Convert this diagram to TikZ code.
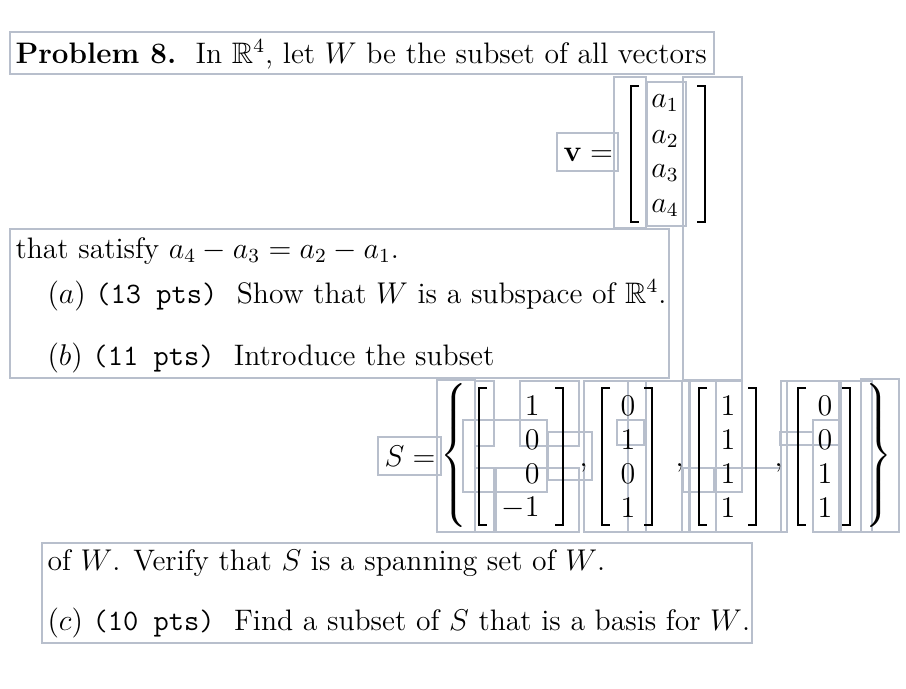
\documentclass[tikz,border=0pt]{standalone}
\usepackage{amsmath,amssymb}
\definecolor{boxgray}{HTML}{B8BFCC}
\tikzset{bx/.style={draw=boxgray,line width=0.45pt},
  txt/.style={anchor=base west,inner sep=0pt,font=\fontsize{11.85}{14}\selectfont},
  ent/.style={inner sep=0pt,font=\fontsize{12}{14}\selectfont},
  brk/.style={line width=0.75pt}}
\newcommand{\bx}[4]{\draw[bx] (#1,#2) rectangle (#3,#4);}
\newcommand{\lbrk}[3]{\draw[brk] (#1+8,#2) -- (#1,#2) -- (#1,#3) -- (#1+8,#3);}
\newcommand{\rbrk}[3]{\draw[brk] (#1-8,#2) -- (#1,#2) -- (#1,#3) -- (#1-8,#3);}
\begin{document}
\begin{tikzpicture}[x=0.4pt,y=-0.4pt]
\fill[white] (0,0) rectangle (906,688);
\useasboundingbox (0,0) rectangle (906,688);
% boxes
\bx{10}{32}{714}{74}
\bx{557}{133}{618}{171}
\bx{614}{77}{646}{228}
\bx{647}{82}{686}{226}
\bx{683}{77}{742}{380}
\bx{10}{229}{669}{378}
\bx{42}{543}{752}{643}
\bx{378}{437}{441}{475}
\bx{437}{380}{475}{532}
\bx{475}{381}{494}{446}
\bx{475}{468}{494}{532}
\bx{463}{420}{547}{492}
\bx{520}{381}{579}{446}
\bx{496}{468}{579}{532}
\bx{548}{432}{592}{480}
\bx{584}{381}{628}{532}
\bx{617}{420}{644}{445}
\bx{628}{381}{690}{532}
\bx{646}{381}{682}{532}
\bx{683}{468}{714}{492}
\bx{689}{381}{716}{532}
\bx{716}{381}{742}{492}
\bx{716}{468}{781}{532}
\bx{781}{381}{787}{532}
\bx{787}{381}{839}{445}
\bx{813}{420}{839}{532}
\bx{780}{432}{813}{445}
\bx{841}{381}{872}{532}
\bx{861}{379}{899}{532}
% texts
\node[txt] (t1) at (15,63) {\textbf{Problem 8.}\ \ In $\mathbb{R}^4$, let $W$ be the subset of all vectors};
\node[txt] (veq) at (563,161) {$\mathbf{v}=$};
\lbrk{631}{86}{222}
\rbrk{705}{86}{222}
\node[ent] (a1) at (665,103) {$a_1$};
\node[ent] (a2) at (665,139) {$a_2$};
\node[ent] (a3) at (665,173) {$a_3$};
\node[ent] (a4) at (665,208) {$a_4$};
\node[txt] (t2) at (15,258) {that satisfy $a_4-a_3=a_2-a_1$.};
\node[txt] (t3) at (47,303) {$(a)$ \texttt{(13 pts)}\ \ Show that $W$ is a subspace of $\mathbb{R}^4$.};
\node[txt] (t4) at (47,365) {$(b)$ \texttt{(11 pts)}\ \ Introduce the subset};
% set S
\node[txt] (seq) at (384,466) {$S=$};
\node[ent] (lb) at (455,456) {$\left\{\rule[-26pt]{0pt}{52pt}\right.$};
\node[ent] (rb) at (877,456) {$\left.\rule[-26pt]{0pt}{52pt}\right\}$};
\lbrk{479}{388}{525} \rbrk{563}{388}{525}
\lbrk{602}{388}{525} \rbrk{652}{388}{525}
\lbrk{699}{388}{525} \rbrk{756}{388}{525}
\lbrk{798}{388}{525} \rbrk{850}{388}{525}
\node[ent,anchor=east] (p11) at (540,406) {$1$};
\node[ent,anchor=east] (p12) at (540,440) {$0$};
\node[ent,anchor=east] (p13) at (540,474) {$0$};
\node[ent,anchor=east] (p14) at (540,508) {$-1$};
\node[ent] (p21) at (628,406) {$0$};
\node[ent] (p22) at (628,440) {$1$};
\node[ent] (p23) at (628,474) {$0$};
\node[ent] (p24) at (628,508) {$1$};
\node[ent] (p31) at (728,406) {$1$};
\node[ent] (p32) at (728,440) {$1$};
\node[ent] (p33) at (728,474) {$1$};
\node[ent] (p34) at (728,508) {$1$};
\node[ent] (p41) at (825,406) {$0$};
\node[ent] (p42) at (825,440) {$0$};
\node[ent] (p43) at (825,474) {$1$};
\node[ent] (p44) at (825,508) {$1$};
\node[txt] (c1) at (579,466) {,};
\node[txt] (c2) at (675,466) {,};
\node[txt] (c3) at (774,466) {,};
\node[txt] (t5) at (47,570) {of $W$. Verify that $S$ is a spanning set of $W$.};
\node[txt] (t6) at (47,630) {$(c)$ \texttt{(10 pts)}\ \ Find a subset of $S$ that is a basis for $W$.};
\end{tikzpicture}
\end{document}
